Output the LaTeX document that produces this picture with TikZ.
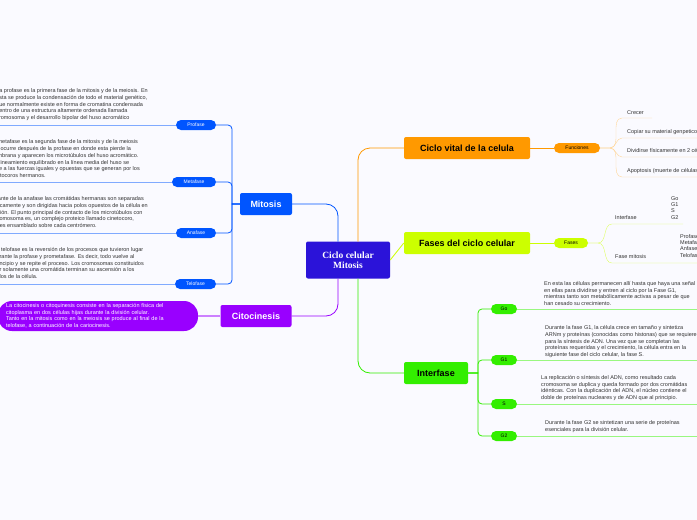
\documentclass[tikz,border=0pt]{standalone}
\usepackage{fontspec}
\setmainfont{Liberation Sans}
\newfontfamily\serifb{Liberation Serif}
\begin{document}
\begin{tikzpicture}[x=1pt,y=-1pt,
 main/.style={rounded corners=2pt,font=\fontsize{9}{10}\selectfont\bfseries,inner sep=0pt},
 pill/.style={rounded corners=5pt,font=\fontsize{5}{6}\selectfont,inner sep=0pt,minimum height=10pt},
 txt/.style={font=\fontsize{5.5}{6.8}\selectfont,align=left,inner sep=0pt,text=black!80},
 sm/.style={font=\fontsize{5.5}{6.5}\selectfont,inner sep=0pt,text=black!80}]
\useasboundingbox[fill=blue!2!white] (0,0) rectangle (697,520);
\definecolor{cen}{HTML}{2B13D9}\definecolor{org}{HTML}{FF9900}\definecolor{ylw}{HTML}{CCFF00}
\definecolor{grn}{HTML}{33EE00}\definecolor{blu}{HTML}{0055FF}\definecolor{pur}{HTML}{9900FF}
\node[main,fill=cen,minimum width=84pt,minimum height=37pt,text=white,align=center,font=\serifb\fontsize{9.5}{10}\selectfont\bfseries] (c) at (348,260) {Ciclo celular\\Mitosis};
\node[main,fill=org,minimum width=126pt,minimum height=22pt] (cv) at (467,148) {Ciclo vital de la celula};
\node[main,fill=ylw,minimum width=126pt,minimum height=22pt] (fc) at (467,243) {Fases del ciclo celular};
\node[main,fill=grn,minimum width=64pt,minimum height=22pt] (in) at (436,373) {Interfase};
\node[main,fill=blu,minimum width=52pt,minimum height=22pt,text=white] (mi) at (266,204) {Mitosis};
\node[main,fill=pur,minimum width=71pt,minimum height=22pt,text=white] (ci) at (256,316) {Citocinesis};
% main connectors
\draw[org,thick] (358,241.5) -- (358,160) to[out=90,in=180] (370,148) -- (cv.west);
\draw[ylw,thick] (c.east) -- (fc.west);
\draw[grn,thick] (358,278.5) -- (358,361) to[out=-90,in=180] (370,373) -- (in.west);
\draw[blu,thick] (338,241.5) -- (338,216) to[out=90,in=0] (326,204) -- (mi.east);
\draw[pur,thick] (338,278.5) -- (338,304) to[out=-90,in=0] (326,316) -- (ci.east);
% Mitosis branch
\foreach \n/\y/\w in {Profase/125/40,Metafase/182/44,Anafase/233/40,Telofase/284/41}{
 \node[pill,fill=blu,text=white,minimum width=\w pt] (p\n) at (216-\w/2,\y) {\n};
 \draw[blu!50,thin] (p\n.west) -- (0,\y);
 \draw[blu,thick] (mi.west) -- (232,204) -- (232,{\y>204?\y-4:\y+4}) to[out={\y>204?-90:90},in=0] (228,\y) -- (p\n.east);
}
\node[txt,anchor=south east] (tp) at (148,121) {La profase es la primera fase de la mitosis y de la meiosis. En\\esta se produce la condensación de todo el material genético,\\que normalmente existe en forma de cromatina condensada\\dentro de una estructura altamente ordenada llamada\\cromosoma y el desarrollo bipolar del huso acromático};
\node[txt,anchor=south east] (tm) at (140,178) {La metafase es la segunda fase de la mitosis y de la meiosis\\que ocurre después de la profase en donde esta pierde la\\membrana y aparecen los microtúbulos del huso acromático.\\El alineamiento equilibrado en la línea media del huso se\\debe a las fuerzas iguales y opuestas que se generan por los\\cinetocoros hermanos.};
\node[txt,anchor=south east] (ta) at (148,229) {Durante de la anafase las cromátidas hermanas son separadas\\bruscamente y son dirigidas hacia polos opuestos de la célula en\\división. El punto principal de contacto de los microtúbulos con\\el cromosoma es, un complejo proteico llamado cinetocoro,\\que es ensamblado sobre cada centrómero.};
\node[txt,anchor=south east] (tt) at (144,280) {La telofase es la reversión de los procesos que tuvieron lugar\\durante la profase y prometafase. Es decir, todo vuelve al\\principio y se repite el proceso. Los cromosomas constituidos\\por solamente una cromátida terminan su ascensión a los\\polos de la célula.};
% Citocinesis
\node[pill,fill=pur,text=white,minimum height=30pt,rounded corners=14pt,font=\fontsize{5.5}{6.6}\selectfont,align=left,text width=184pt,inner xsep=8pt] (pc) at (98,316) {La citocinesis o citoquinesis consiste en la separación física del\\citoplasma en dos células hijas durante la división celular.\\Tanto en la mitosis como en la meiosis se produce al final de la\\telofase, a continuación de la cariocinesis.};
\draw[pur!50,very thick] (ci.west) -- (pc.east);
% Funciones
\node[pill,fill=org,minimum width=46pt] (fu) at (577,148) {Funciones};
\draw[org,thick] (cv.east) -- (fu.west);
\foreach \t/\y/\e in {Crecer/118/652,Copiar su material genpetico/138/720,Dividirse físicamente en 2 células hijas/157/720,Apoptosis (muerte de células)/177/720}{
 \draw[org!40] (fu.east) -- (610,148) to[out=0,in=180] (622,\y) -- (\e,\y);
 \node[sm,anchor=south west] at (627,\y-3) {\t};}
% Fases
\node[pill,fill=ylw,minimum width=34pt] (fa) at (571,243) {Fases};
\draw[ylw,thick] (fc.east) -- (fa.west);
\draw[ylw!60] (fa.east) -- (598,243) to[out=0,in=180] (612,224) -- (683,224);
\draw[ylw!60] (fa.east) -- (598,243) to[out=0,in=180] (612,263) -- (720,263);
\node[sm,anchor=south west] (fi) at (615,220) {Interfase};
\node[sm,anchor=south west] (fm) at (615,259) {Fase mitosis};
\node[sm,anchor=north west,align=left,font=\fontsize{5.5}{6.4}\selectfont] (gl) at (671,196) {Go\\G1\\S\\G2};
\node[sm,anchor=north west,align=left,font=\fontsize{5.5}{6.4}\selectfont] (ml) at (680,234) {Profase\\Metafase\\Anfase\\Telofase};
% Interfase subs
\foreach \n/\y in {Go/309,G1/360,S/404,G2/436}{
 \node[pill,fill=grn,minimum width=26pt] (g\n) at (504,\y) {\n};
 \draw[grn!50] (g\n.east) -- (720,\y);
 \draw[grn,thick] (in.east) -- (478,373) -- (478,{\y>373?\y-4:\y+4}) to[out={\y>373?-90:90},in=180] (482,\y) -- (g\n.west);
}
\node[txt,anchor=south west] at (544,306) {En esta las células permanecen allí hasta que haya una señal\\en ellas para dividirse y entren al ciclo por la Fase G1,\\mientras tanto son metabólicamente activas a pesar de que\\han cesado su crecimiento.};
\node[txt,anchor=south west] at (545,358) {Durante la fase G1, la célula crece en tamaño y sintetiza\\ARNm y proteínas (conocidas como histonas) que se requieren\\para la síntesis de ADN. Una vez que se completan las\\proteínas requeridas y el crecimiento, la célula entra en la\\siguiente fase del ciclo celular, la fase S.};
\node[txt,anchor=south west] at (541,401) {La replicación o síntesis del ADN, como resultado cada\\cromosoma se duplica y queda formado por dos cromátidas\\idénticas. Con la duplicación del ADN, el núcleo contiene el\\doble de proteínas nucleares y de ADN que al principio.};
\node[txt,anchor=south west] at (545,433) {Durante la fase G2 se sintetizan una serie de proteínas\\esenciales para la división celular.};
\end{tikzpicture}
\end{document}
